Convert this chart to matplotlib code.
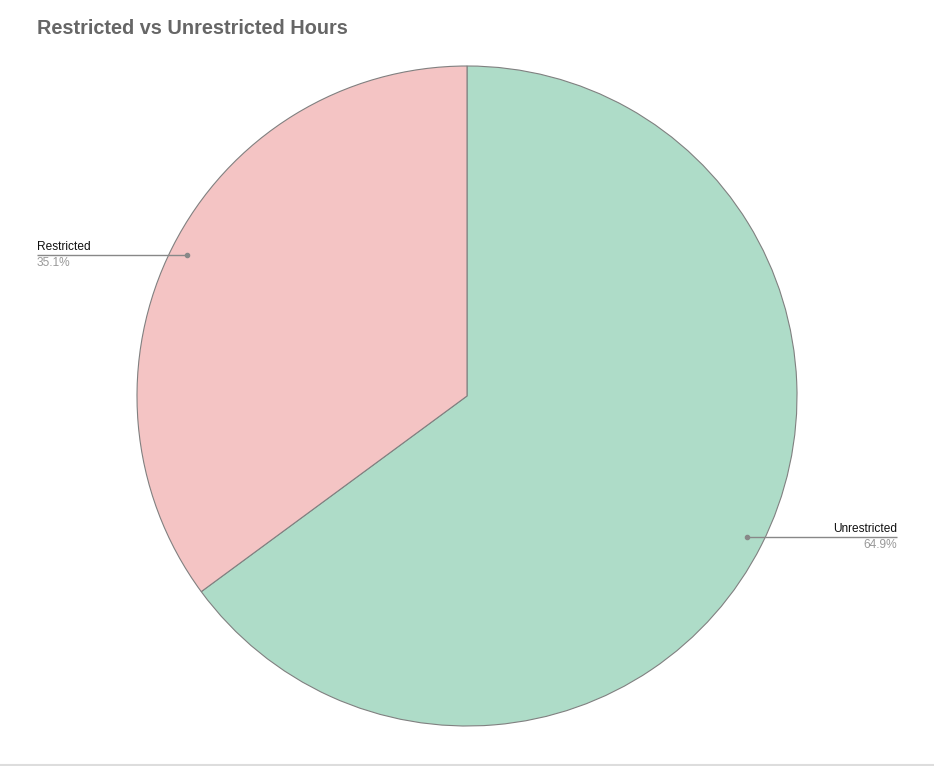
import numpy as np
import matplotlib
matplotlib.use("Agg")
import matplotlib.pyplot as plt
from matplotlib.lines import Line2D

plt.rcParams['font.family'] = ['Liberation Sans', 'DejaVu Sans']

categories = ["Unrestricted", "Restricted"]
values = [64.9, 35.1]
pct_labels = ["64.9%", "35.1%"]
colors = ["#aedcc8", "#f4c4c4"]

W, H = 934, 766
fig = plt.figure(figsize=(W / 100, H / 100), dpi=100)
ax = fig.add_axes([0, 0, 1, 1])
ax.set_xlim(0, W)
ax.set_ylim(0, H)
ax.set_aspect('equal')
ax.axis('off')

cx, cy, r = 467, H - 396, 330
wedges, _ = ax.pie(values, colors=colors, startangle=90, counterclock=False,
                   center=(cx, cy), radius=r,
                   wedgeprops=dict(edgecolor="#808080", linewidth=0.8))
ax.set_xlim(0, W)
ax.set_ylim(0, H)

for w, cat, pct in zip(wedges, categories, pct_labels):
    mid = np.deg2rad((w.theta1 + w.theta2) / 2)
    px = cx + 0.95 * r * np.cos(mid)
    py = cy + 0.95 * r * np.sin(mid)
    if np.cos(mid) < 0:
        ex, ha = 37, 'left'
    else:
        ex, ha = 897, 'right'
    ax.plot([px, ex], [py, py], color="#888888", lw=1, solid_capstyle='butt')
    ax.plot([px], [py], 'o', color="#888888", ms=3)
    ax.text(ex, py + 2, cat, ha=ha, va='bottom', fontsize=8.6, color="#111111")
    ax.text(ex, py - 2, pct, ha=ha, va='top', fontsize=8.6, color="#999999")

fig.text(37 / W, 1 - 29 / H, "Restricted vs Unrestricted Hours", ha='left', va='center',
         fontsize=14.3, fontweight='bold', color="#666666")
fig.add_artist(Line2D([0, 1], [1 - 764.5 / H, 1 - 764.5 / H], color="#dddddd", lw=1.5,
                      transform=fig.transFigure))

fig.savefig("out.png", dpi=100)
